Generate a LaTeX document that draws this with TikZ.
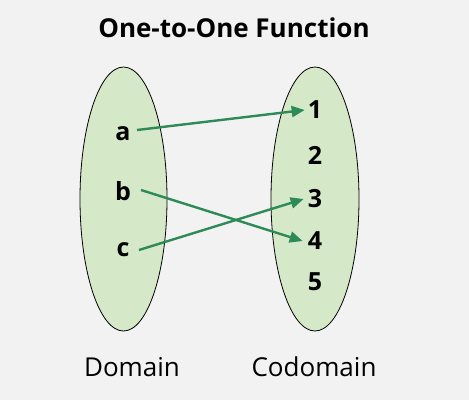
\documentclass[tikz,border=0pt]{standalone}
\usepackage{fontspec}
\setmainfont{Open Sans}
\usetikzlibrary{arrows.meta}
\definecolor{setfill}{HTML}{D5E8C8}
\definecolor{mapgreen}{HTML}{2E8B57}
\definecolor{bgray}{HTML}{F2F2F2}
\begin{document}
\begin{tikzpicture}[x=1pt,y=-1pt]
  \tikzset{elem/.style={font=\fontsize{25}{30}\selectfont\bfseries,inner sep=1pt},
           setname/.style={font=\fontsize{26}{31}\selectfont},
           maps/.style={draw=mapgreen,line width=2.4pt,-{Triangle[length=13pt,width=11pt]}}}
  \fill[bgray] (0,0) rectangle (469,400);
  \useasboundingbox (0,0) rectangle (469,400);
  \node[font=\fontsize{26}{31}\selectfont\bfseries] (title) at (234,28) {One-to-One Function};
  \draw[fill=setfill,line width=0.8pt] (123.5,199) ellipse [x radius=43.5,y radius=132];
  \draw[fill=setfill,line width=0.8pt] (315,199) ellipse [x radius=44,y radius=132];
  % domain
  \node[elem] (a) at (123,134) {a};
  \node[elem] (b) at (123,191) {b};
  \node[elem] (c) at (123,250) {c};
  % codomain
  \node[elem] (n1) at (315,110) {1};
  \node[elem] (n2) at (315,155) {2};
  \node[elem] (n3) at (315,199) {3};
  \node[elem] (n4) at (315,241) {4};
  \node[elem] (n5) at (315,282) {5};
  \node[setname] (dom) at (132,367) {Domain};
  \node[setname] (cod) at (314,367) {Codomain};
  \coordinate (sa) at (137,130);
  \coordinate (sb) at (141,190);
  \coordinate (sc) at (139,250);
  \draw[maps] (sa) -- ([xshift=-2pt]n1.west);
  \draw[maps] (sb) -- ([xshift=-4pt]n4.west);
  \draw[maps] (sc) -- ([xshift=-3pt]n3.west);
\end{tikzpicture}
\end{document}
